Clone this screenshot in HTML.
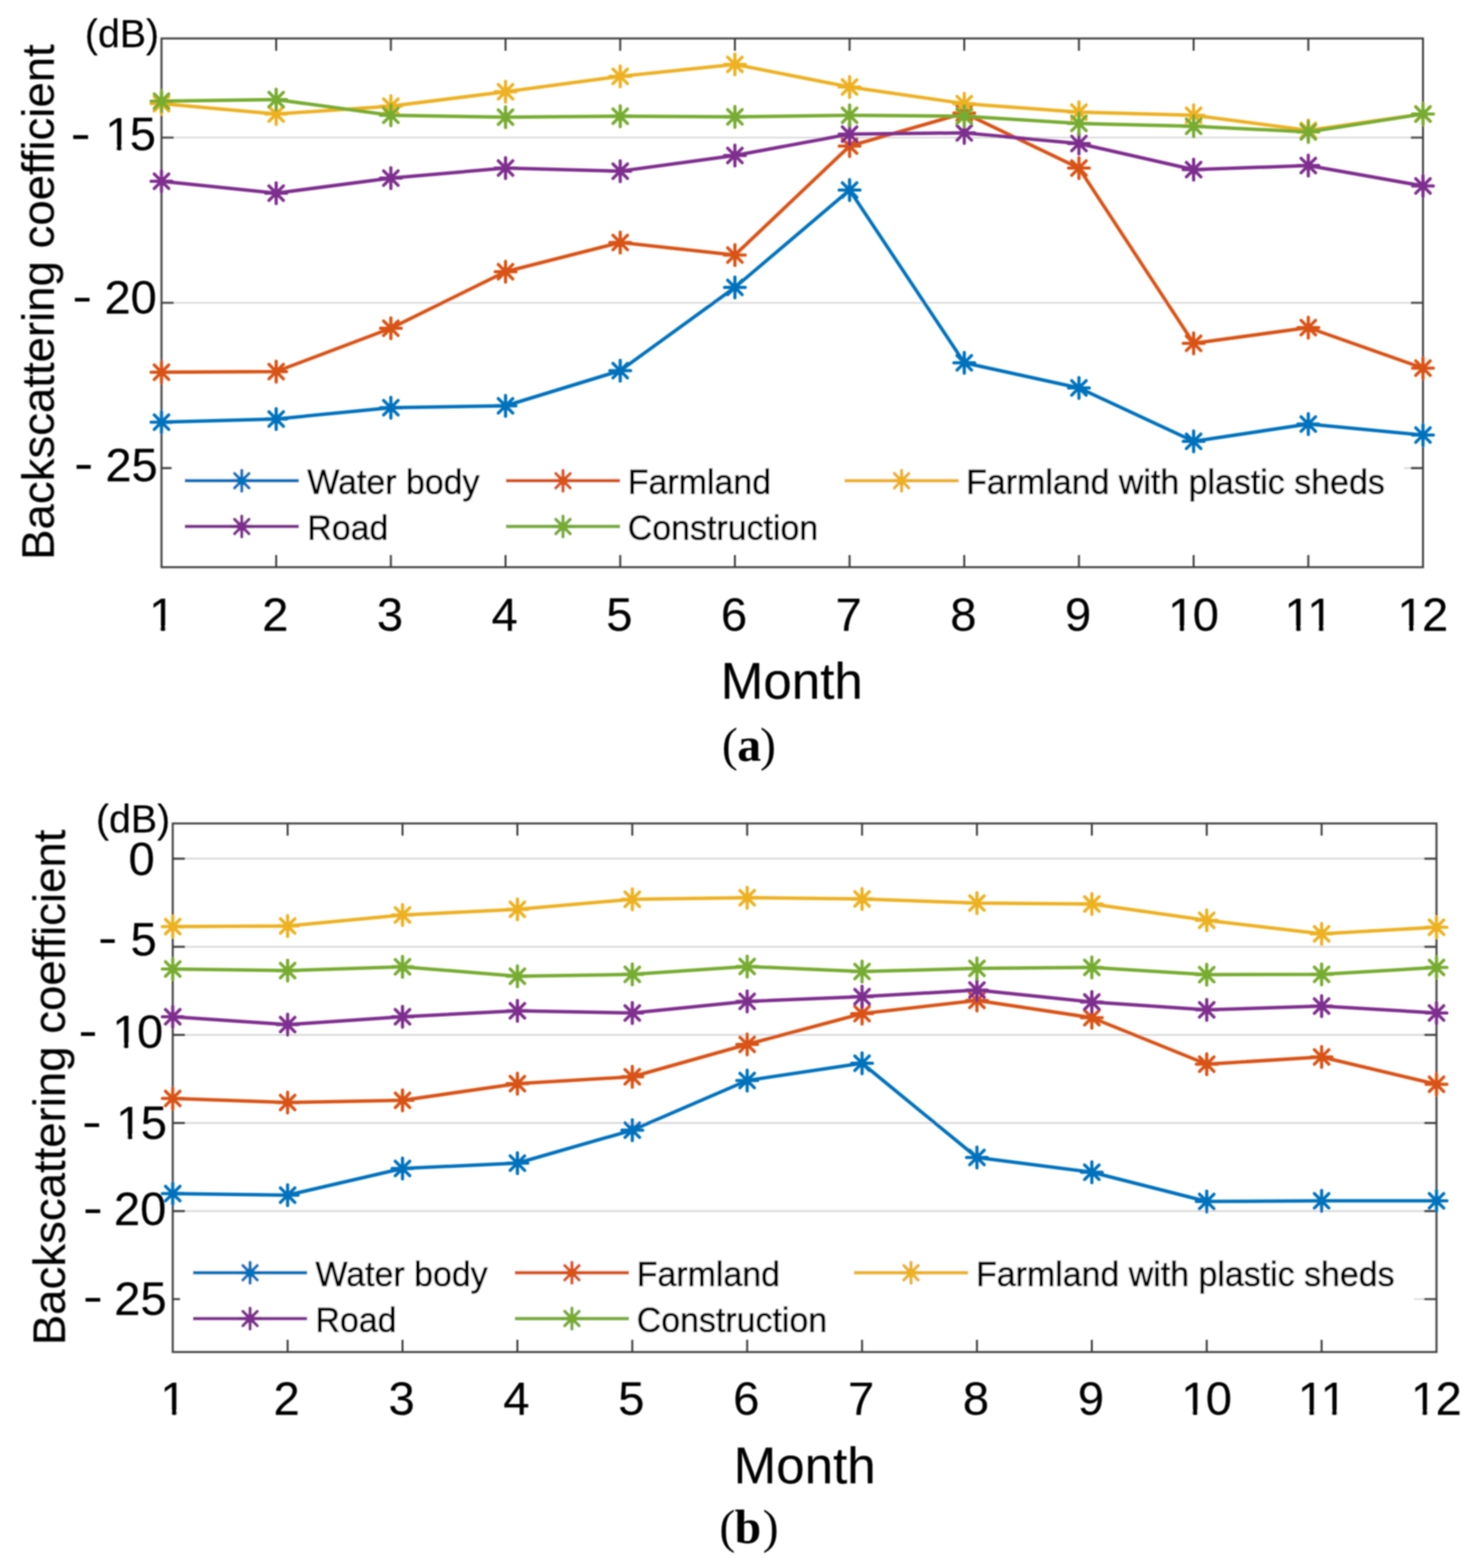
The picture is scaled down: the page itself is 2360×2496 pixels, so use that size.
<!DOCTYPE html>
<html><head><meta charset="utf-8"><title>Backscattering coefficient by month</title>
<style>
html,body{margin:0;padding:0;background:#fff;}
svg{display:block;}
text{font-family:"Liberation Sans", Arial, sans-serif;fill:#000;stroke:#000;stroke-width:0.25px;}
text.serif{font-family:"Liberation Serif", "Times New Roman", serif;stroke:none;}
text.leg{stroke-width:1.0px;}
</style></head>
<body>
<svg width="2360" height="2496" viewBox="0 0 2360 2496">
<defs><filter id="soft" x="0" y="0" width="2360" height="2496" filterUnits="userSpaceOnUse"><feGaussianBlur stdDeviation="0.8"/></filter></defs>
<rect width="2360" height="2496" fill="#fff"/>
<g filter="url(#soft)">
<path d="M257 219.02H2264.5M257 482.05H2264.5M257 745.08H2264.5" stroke="#d8d8d8" stroke-width="2.6" fill="none"/>
<path d="M439.5 61.2v19.5M439.5 902.9v-19.5M622 61.2v19.5M622 902.9v-19.5M804.5 61.2v19.5M804.5 902.9v-19.5M987 61.2v19.5M987 902.9v-19.5M1169.5 61.2v19.5M1169.5 902.9v-19.5M1352 61.2v19.5M1352 902.9v-19.5M1534.5 61.2v19.5M1534.5 902.9v-19.5M1717 61.2v19.5M1717 902.9v-19.5M1899.5 61.2v19.5M1899.5 902.9v-19.5M2082 61.2v19.5M2082 902.9v-19.5M257 219.02h19.5M2264.5 219.02h-19.5M257 482.05h19.5M2264.5 482.05h-19.5M257 745.08h19.5M2264.5 745.08h-19.5" stroke="#3c3c3c" stroke-width="3.1" fill="none"/>
<rect x="257" y="61.2" width="2007.5" height="841.7" stroke="#3c3c3c" stroke-width="3.1" fill="none"/>
<polyline points="257,672 439.5,667 622,649 804.5,646 987,590 1169.5,457.5 1352,302.5 1534.5,577.5 1717,617.5 1899.5,702.5 2082,675 2264.5,692.5" stroke="#0072BD" stroke-width="5.5" fill="none" stroke-linejoin="round" stroke-linecap="round"/>
<path d="M240.5 672H273.5M257 655.5V688.5M245.5 660.5L268.5 683.5M245.5 683.5L268.5 660.5M423 667H456M439.5 650.5V683.5M428 655.5L451 678.5M428 678.5L451 655.5M605.5 649H638.5M622 632.5V665.5M610.5 637.5L633.5 660.5M610.5 660.5L633.5 637.5M788 646H821M804.5 629.5V662.5M793 634.5L816 657.5M793 657.5L816 634.5M970.5 590H1003.5M987 573.5V606.5M975.5 578.5L998.5 601.5M975.5 601.5L998.5 578.5M1153 457.5H1186M1169.5 441V474M1158 446L1181 469M1158 469L1181 446M1335.5 302.5H1368.5M1352 286V319M1340.5 291L1363.5 314M1340.5 314L1363.5 291M1518 577.5H1551M1534.5 561V594M1523 566L1546 589M1523 589L1546 566M1700.5 617.5H1733.5M1717 601V634M1705.5 606L1728.5 629M1705.5 629L1728.5 606M1883 702.5H1916M1899.5 686V719M1888 691L1911 714M1888 714L1911 691M2065.5 675H2098.5M2082 658.5V691.5M2070.5 663.5L2093.5 686.5M2070.5 686.5L2093.5 663.5M2248 692.5H2281M2264.5 676V709M2253 681L2276 704M2253 704L2276 681" stroke="#0072BD" stroke-width="5.1" fill="none" stroke-linecap="round"/>
<polyline points="257,592.5 439.5,591.5 622,522.5 804.5,432.5 987,386 1169.5,406 1352,232.5 1534.5,180 1717,267.5 1899.5,546.5 2082,521.5 2264.5,586" stroke="#D95319" stroke-width="5.5" fill="none" stroke-linejoin="round" stroke-linecap="round"/>
<path d="M240.5 592.5H273.5M257 576V609M245.5 581L268.5 604M245.5 604L268.5 581M423 591.5H456M439.5 575V608M428 580L451 603M428 603L451 580M605.5 522.5H638.5M622 506V539M610.5 511L633.5 534M610.5 534L633.5 511M788 432.5H821M804.5 416V449M793 421L816 444M793 444L816 421M970.5 386H1003.5M987 369.5V402.5M975.5 374.5L998.5 397.5M975.5 397.5L998.5 374.5M1153 406H1186M1169.5 389.5V422.5M1158 394.5L1181 417.5M1158 417.5L1181 394.5M1335.5 232.5H1368.5M1352 216V249M1340.5 221L1363.5 244M1340.5 244L1363.5 221M1518 180H1551M1534.5 163.5V196.5M1523 168.5L1546 191.5M1523 191.5L1546 168.5M1700.5 267.5H1733.5M1717 251V284M1705.5 256L1728.5 279M1705.5 279L1728.5 256M1883 546.5H1916M1899.5 530V563M1888 535L1911 558M1888 558L1911 535M2065.5 521.5H2098.5M2082 505V538M2070.5 510L2093.5 533M2070.5 533L2093.5 510M2248 586H2281M2264.5 569.5V602.5M2253 574.5L2276 597.5M2253 597.5L2276 574.5" stroke="#D95319" stroke-width="5.1" fill="none" stroke-linecap="round"/>
<polyline points="257,165 439.5,181.5 622,169 804.5,146 987,121.5 1169.5,102.5 1352,138.5 1534.5,165 1717,178.5 1899.5,183.5 2082,207.5 2264.5,181.5" stroke="#EDB120" stroke-width="5.5" fill="none" stroke-linejoin="round" stroke-linecap="round"/>
<path d="M240.5 165H273.5M257 148.5V181.5M245.5 153.5L268.5 176.5M245.5 176.5L268.5 153.5M423 181.5H456M439.5 165V198M428 170L451 193M428 193L451 170M605.5 169H638.5M622 152.5V185.5M610.5 157.5L633.5 180.5M610.5 180.5L633.5 157.5M788 146H821M804.5 129.5V162.5M793 134.5L816 157.5M793 157.5L816 134.5M970.5 121.5H1003.5M987 105V138M975.5 110L998.5 133M975.5 133L998.5 110M1153 102.5H1186M1169.5 86V119M1158 91L1181 114M1158 114L1181 91M1335.5 138.5H1368.5M1352 122V155M1340.5 127L1363.5 150M1340.5 150L1363.5 127M1518 165H1551M1534.5 148.5V181.5M1523 153.5L1546 176.5M1523 176.5L1546 153.5M1700.5 178.5H1733.5M1717 162V195M1705.5 167L1728.5 190M1705.5 190L1728.5 167M1883 183.5H1916M1899.5 167V200M1888 172L1911 195M1888 195L1911 172M2065.5 207.5H2098.5M2082 191V224M2070.5 196L2093.5 219M2070.5 219L2093.5 196M2248 181.5H2281M2264.5 165V198M2253 170L2276 193M2253 193L2276 170" stroke="#EDB120" stroke-width="5.1" fill="none" stroke-linecap="round"/>
<polyline points="257,288.5 439.5,307.5 622,283.5 804.5,267.5 987,272.5 1169.5,247.5 1352,213.5 1534.5,211.5 1717,228.5 1899.5,270 2082,263.5 2264.5,296" stroke="#7E2F8E" stroke-width="5.5" fill="none" stroke-linejoin="round" stroke-linecap="round"/>
<path d="M240.5 288.5H273.5M257 272V305M245.5 277L268.5 300M245.5 300L268.5 277M423 307.5H456M439.5 291V324M428 296L451 319M428 319L451 296M605.5 283.5H638.5M622 267V300M610.5 272L633.5 295M610.5 295L633.5 272M788 267.5H821M804.5 251V284M793 256L816 279M793 279L816 256M970.5 272.5H1003.5M987 256V289M975.5 261L998.5 284M975.5 284L998.5 261M1153 247.5H1186M1169.5 231V264M1158 236L1181 259M1158 259L1181 236M1335.5 213.5H1368.5M1352 197V230M1340.5 202L1363.5 225M1340.5 225L1363.5 202M1518 211.5H1551M1534.5 195V228M1523 200L1546 223M1523 223L1546 200M1700.5 228.5H1733.5M1717 212V245M1705.5 217L1728.5 240M1705.5 240L1728.5 217M1883 270H1916M1899.5 253.5V286.5M1888 258.5L1911 281.5M1888 281.5L1911 258.5M2065.5 263.5H2098.5M2082 247V280M2070.5 252L2093.5 275M2070.5 275L2093.5 252M2248 296H2281M2264.5 279.5V312.5M2253 284.5L2276 307.5M2253 307.5L2276 284.5" stroke="#7E2F8E" stroke-width="5.1" fill="none" stroke-linecap="round"/>
<polyline points="257,161 439.5,158.5 622,183.5 804.5,186.5 987,185 1169.5,186 1352,183.5 1534.5,185 1717,196.5 1899.5,201 2082,210 2264.5,181.5" stroke="#77AC30" stroke-width="5.5" fill="none" stroke-linejoin="round" stroke-linecap="round"/>
<path d="M240.5 161H273.5M257 144.5V177.5M245.5 149.5L268.5 172.5M245.5 172.5L268.5 149.5M423 158.5H456M439.5 142V175M428 147L451 170M428 170L451 147M605.5 183.5H638.5M622 167V200M610.5 172L633.5 195M610.5 195L633.5 172M788 186.5H821M804.5 170V203M793 175L816 198M793 198L816 175M970.5 185H1003.5M987 168.5V201.5M975.5 173.5L998.5 196.5M975.5 196.5L998.5 173.5M1153 186H1186M1169.5 169.5V202.5M1158 174.5L1181 197.5M1158 197.5L1181 174.5M1335.5 183.5H1368.5M1352 167V200M1340.5 172L1363.5 195M1340.5 195L1363.5 172M1518 185H1551M1534.5 168.5V201.5M1523 173.5L1546 196.5M1523 196.5L1546 173.5M1700.5 196.5H1733.5M1717 180V213M1705.5 185L1728.5 208M1705.5 208L1728.5 185M1883 201H1916M1899.5 184.5V217.5M1888 189.5L1911 212.5M1888 212.5L1911 189.5M2065.5 210H2098.5M2082 193.5V226.5M2070.5 198.5L2093.5 221.5M2070.5 221.5L2093.5 198.5M2248 181.5H2281M2264.5 165V198M2253 170L2276 193M2253 193L2276 170" stroke="#77AC30" stroke-width="5.1" fill="none" stroke-linecap="round"/>
<rect x="273.5" y="728" width="1960.5" height="144" fill="#fff"/>
<path d="M294 765.2H475.5" stroke="#0072BD" stroke-width="5.5" fill="none"/>
<path d="M368.25 765.2H401.25M384.75 748.7V781.7M373.25 753.7L396.25 776.7M373.25 776.7L396.25 753.7" stroke="#0072BD" stroke-width="5.1" fill="none" stroke-linecap="round"/>
<text transform="translate(489 786.2) scale(1 1.03)" class="leg" font-size="54">Water body</text>
<path d="M805.2 765.2H986.7" stroke="#D95319" stroke-width="5.5" fill="none"/>
<path d="M879.45 765.2H912.45M895.95 748.7V781.7M884.45 753.7L907.45 776.7M884.45 776.7L907.45 753.7" stroke="#D95319" stroke-width="5.1" fill="none" stroke-linecap="round"/>
<text transform="translate(999 786.2) scale(1 1.03)" class="leg" font-size="54">Farmland</text>
<path d="M1344 765.2H1525.5" stroke="#EDB120" stroke-width="5.5" fill="none"/>
<path d="M1418.25 765.2H1451.25M1434.75 748.7V781.7M1423.25 753.7L1446.25 776.7M1423.25 776.7L1446.25 753.7" stroke="#EDB120" stroke-width="5.1" fill="none" stroke-linecap="round"/>
<text transform="translate(1537.6 786.2) scale(1 1.03)" class="leg" font-size="54">Farmland with plastic sheds</text>
<path d="M294 838.1H475.5" stroke="#7E2F8E" stroke-width="5.5" fill="none"/>
<path d="M368.25 838.1H401.25M384.75 821.6V854.6M373.25 826.6L396.25 849.6M373.25 849.6L396.25 826.6" stroke="#7E2F8E" stroke-width="5.1" fill="none" stroke-linecap="round"/>
<text transform="translate(489 859.1) scale(1 1.03)" class="leg" font-size="54">Road</text>
<path d="M805.2 838.1H986.7" stroke="#77AC30" stroke-width="5.5" fill="none"/>
<path d="M879.45 838.1H912.45M895.95 821.6V854.6M884.45 826.6L907.45 849.6M884.45 849.6L907.45 826.6" stroke="#77AC30" stroke-width="5.1" fill="none" stroke-linecap="round"/>
<text transform="translate(999 859.1) scale(1 1.03)" class="leg" font-size="54">Construction</text>
<text y="1004" font-size="75"><tspan x="237.14">1</tspan></text>
<text y="1004" font-size="75"><tspan x="417.14">2</tspan></text>
<text y="1004" font-size="75"><tspan x="599.64">3</tspan></text>
<text y="1004" font-size="75"><tspan x="782.14">4</tspan></text>
<text y="1004" font-size="75"><tspan x="964.64">5</tspan></text>
<text y="1004" font-size="75"><tspan x="1147.14">6</tspan></text>
<text y="1004" font-size="75"><tspan x="1329.64">7</tspan></text>
<text y="1004" font-size="75"><tspan x="1512.14">8</tspan></text>
<text y="1004" font-size="75"><tspan x="1694.64">9</tspan></text>
<text y="1004" font-size="75"><tspan x="1858.79">1</tspan><tspan x="1898">0</tspan></text>
<text y="1004" font-size="75"><tspan x="2044.07">1</tspan><tspan x="2080.22">1</tspan></text>
<text y="1004" font-size="75"><tspan x="2223.79">1</tspan><tspan x="2263">2</tspan></text>
<text transform="translate(112.51 238.47) scale(1.27 1)" font-size="75">-</text>
<text y="239.1" font-size="75"><tspan x="167.41">1</tspan><tspan x="206.62">5</tspan></text>
<text transform="translate(114.95 497.47) scale(1.26 1)" font-size="75">-</text>
<text y="498.8" font-size="75"><tspan x="166.16">2</tspan><tspan x="207.87">0</tspan></text>
<text transform="translate(117.92 762.67) scale(1.21 1)" font-size="75">-</text>
<text y="766" font-size="75"><tspan x="167.65">2</tspan><tspan x="209.36">5</tspan></text>
<text x="135.09" y="75.3" font-size="62.5">(dB)</text>
<text transform="translate(85.5 891.18) rotate(-90)" font-size="72.5">Backscattering coefficient</text>
<text x="1146.99" y="1112" font-size="81.3">Month</text>
<text y="1211" font-size="76" class="serif"><tspan x="1148.78">(</tspan><tspan x="1173.23" font-weight="bold">a</tspan><tspan x="1209.46">)</tspan></text>
<path d="M274.9 1366.89H2286M274.9 1507.13H2286M274.9 1647.36H2286M274.9 1787.59H2286M274.9 1927.83H2286M274.9 2068.06H2286" stroke="#d8d8d8" stroke-width="2.6" fill="none"/>
<path d="M457.73 1310.8v19.5M457.73 2152.2v-19.5M640.55 1310.8v19.5M640.55 2152.2v-19.5M823.38 1310.8v19.5M823.38 2152.2v-19.5M1006.21 1310.8v19.5M1006.21 2152.2v-19.5M1189.04 1310.8v19.5M1189.04 2152.2v-19.5M1371.86 1310.8v19.5M1371.86 2152.2v-19.5M1554.69 1310.8v19.5M1554.69 2152.2v-19.5M1737.52 1310.8v19.5M1737.52 2152.2v-19.5M1920.35 1310.8v19.5M1920.35 2152.2v-19.5M2103.17 1310.8v19.5M2103.17 2152.2v-19.5M274.9 1366.89h19.5M2286 1366.89h-19.5M274.9 1507.13h19.5M2286 1507.13h-19.5M274.9 1647.36h19.5M2286 1647.36h-19.5M274.9 1787.59h19.5M2286 1787.59h-19.5M274.9 1927.83h19.5M2286 1927.83h-19.5M274.9 2068.06h19.5M2286 2068.06h-19.5" stroke="#3c3c3c" stroke-width="3.1" fill="none"/>
<rect x="274.9" y="1310.8" width="2011.1" height="841.4" stroke="#3c3c3c" stroke-width="3.1" fill="none"/>
<polyline points="274.9,1900 457.73,1902.5 640.55,1860 823.38,1851.5 1006.21,1799 1189.04,1720 1371.86,1692.5 1554.69,1842.5 1737.52,1866 1920.35,1912.5 2103.17,1911.5 2286,1911.5" stroke="#0072BD" stroke-width="5.5" fill="none" stroke-linejoin="round" stroke-linecap="round"/>
<path d="M258.4 1900H291.4M274.9 1883.5V1916.5M263.4 1888.5L286.4 1911.5M263.4 1911.5L286.4 1888.5M441.23 1902.5H474.23M457.73 1886V1919M446.23 1891L469.23 1914M446.23 1914L469.23 1891M624.05 1860H657.05M640.55 1843.5V1876.5M629.05 1848.5L652.05 1871.5M629.05 1871.5L652.05 1848.5M806.88 1851.5H839.88M823.38 1835V1868M811.88 1840L834.88 1863M811.88 1863L834.88 1840M989.71 1799H1022.71M1006.21 1782.5V1815.5M994.71 1787.5L1017.71 1810.5M994.71 1810.5L1017.71 1787.5M1172.54 1720H1205.54M1189.04 1703.5V1736.5M1177.54 1708.5L1200.54 1731.5M1177.54 1731.5L1200.54 1708.5M1355.36 1692.5H1388.36M1371.86 1676V1709M1360.36 1681L1383.36 1704M1360.36 1704L1383.36 1681M1538.19 1842.5H1571.19M1554.69 1826V1859M1543.19 1831L1566.19 1854M1543.19 1854L1566.19 1831M1721.02 1866H1754.02M1737.52 1849.5V1882.5M1726.02 1854.5L1749.02 1877.5M1726.02 1877.5L1749.02 1854.5M1903.85 1912.5H1936.85M1920.35 1896V1929M1908.85 1901L1931.85 1924M1908.85 1924L1931.85 1901M2086.67 1911.5H2119.67M2103.17 1895V1928M2091.67 1900L2114.67 1923M2091.67 1923L2114.67 1900M2269.5 1911.5H2302.5M2286 1895V1928M2274.5 1900L2297.5 1923M2274.5 1923L2297.5 1900" stroke="#0072BD" stroke-width="5.1" fill="none" stroke-linecap="round"/>
<polyline points="274.9,1748.5 457.73,1755 640.55,1751.5 823.38,1725 1006.21,1714 1189.04,1662.5 1371.86,1613.5 1554.69,1592.5 1737.52,1620 1920.35,1694 2103.17,1682.5 2286,1726" stroke="#D95319" stroke-width="5.5" fill="none" stroke-linejoin="round" stroke-linecap="round"/>
<path d="M258.4 1748.5H291.4M274.9 1732V1765M263.4 1737L286.4 1760M263.4 1760L286.4 1737M441.23 1755H474.23M457.73 1738.5V1771.5M446.23 1743.5L469.23 1766.5M446.23 1766.5L469.23 1743.5M624.05 1751.5H657.05M640.55 1735V1768M629.05 1740L652.05 1763M629.05 1763L652.05 1740M806.88 1725H839.88M823.38 1708.5V1741.5M811.88 1713.5L834.88 1736.5M811.88 1736.5L834.88 1713.5M989.71 1714H1022.71M1006.21 1697.5V1730.5M994.71 1702.5L1017.71 1725.5M994.71 1725.5L1017.71 1702.5M1172.54 1662.5H1205.54M1189.04 1646V1679M1177.54 1651L1200.54 1674M1177.54 1674L1200.54 1651M1355.36 1613.5H1388.36M1371.86 1597V1630M1360.36 1602L1383.36 1625M1360.36 1625L1383.36 1602M1538.19 1592.5H1571.19M1554.69 1576V1609M1543.19 1581L1566.19 1604M1543.19 1604L1566.19 1581M1721.02 1620H1754.02M1737.52 1603.5V1636.5M1726.02 1608.5L1749.02 1631.5M1726.02 1631.5L1749.02 1608.5M1903.85 1694H1936.85M1920.35 1677.5V1710.5M1908.85 1682.5L1931.85 1705.5M1908.85 1705.5L1931.85 1682.5M2086.67 1682.5H2119.67M2103.17 1666V1699M2091.67 1671L2114.67 1694M2091.67 1694L2114.67 1671M2269.5 1726H2302.5M2286 1709.5V1742.5M2274.5 1714.5L2297.5 1737.5M2274.5 1737.5L2297.5 1714.5" stroke="#D95319" stroke-width="5.1" fill="none" stroke-linecap="round"/>
<polyline points="274.9,1475 457.73,1474 640.55,1456.5 823.38,1447.5 1006.21,1431.5 1189.04,1429 1371.86,1431 1554.69,1437.5 1737.52,1439 1920.35,1465 2103.17,1486.5 2286,1476" stroke="#EDB120" stroke-width="5.5" fill="none" stroke-linejoin="round" stroke-linecap="round"/>
<path d="M258.4 1475H291.4M274.9 1458.5V1491.5M263.4 1463.5L286.4 1486.5M263.4 1486.5L286.4 1463.5M441.23 1474H474.23M457.73 1457.5V1490.5M446.23 1462.5L469.23 1485.5M446.23 1485.5L469.23 1462.5M624.05 1456.5H657.05M640.55 1440V1473M629.05 1445L652.05 1468M629.05 1468L652.05 1445M806.88 1447.5H839.88M823.38 1431V1464M811.88 1436L834.88 1459M811.88 1459L834.88 1436M989.71 1431.5H1022.71M1006.21 1415V1448M994.71 1420L1017.71 1443M994.71 1443L1017.71 1420M1172.54 1429H1205.54M1189.04 1412.5V1445.5M1177.54 1417.5L1200.54 1440.5M1177.54 1440.5L1200.54 1417.5M1355.36 1431H1388.36M1371.86 1414.5V1447.5M1360.36 1419.5L1383.36 1442.5M1360.36 1442.5L1383.36 1419.5M1538.19 1437.5H1571.19M1554.69 1421V1454M1543.19 1426L1566.19 1449M1543.19 1449L1566.19 1426M1721.02 1439H1754.02M1737.52 1422.5V1455.5M1726.02 1427.5L1749.02 1450.5M1726.02 1450.5L1749.02 1427.5M1903.85 1465H1936.85M1920.35 1448.5V1481.5M1908.85 1453.5L1931.85 1476.5M1908.85 1476.5L1931.85 1453.5M2086.67 1486.5H2119.67M2103.17 1470V1503M2091.67 1475L2114.67 1498M2091.67 1498L2114.67 1475M2269.5 1476H2302.5M2286 1459.5V1492.5M2274.5 1464.5L2297.5 1487.5M2274.5 1487.5L2297.5 1464.5" stroke="#EDB120" stroke-width="5.1" fill="none" stroke-linecap="round"/>
<polyline points="274.9,1618.5 457.73,1631 640.55,1618.5 823.38,1609 1006.21,1612.5 1189.04,1594 1371.86,1586.5 1554.69,1576 1737.52,1595 1920.35,1607.5 2103.17,1601.5 2286,1612.5" stroke="#7E2F8E" stroke-width="5.5" fill="none" stroke-linejoin="round" stroke-linecap="round"/>
<path d="M258.4 1618.5H291.4M274.9 1602V1635M263.4 1607L286.4 1630M263.4 1630L286.4 1607M441.23 1631H474.23M457.73 1614.5V1647.5M446.23 1619.5L469.23 1642.5M446.23 1642.5L469.23 1619.5M624.05 1618.5H657.05M640.55 1602V1635M629.05 1607L652.05 1630M629.05 1630L652.05 1607M806.88 1609H839.88M823.38 1592.5V1625.5M811.88 1597.5L834.88 1620.5M811.88 1620.5L834.88 1597.5M989.71 1612.5H1022.71M1006.21 1596V1629M994.71 1601L1017.71 1624M994.71 1624L1017.71 1601M1172.54 1594H1205.54M1189.04 1577.5V1610.5M1177.54 1582.5L1200.54 1605.5M1177.54 1605.5L1200.54 1582.5M1355.36 1586.5H1388.36M1371.86 1570V1603M1360.36 1575L1383.36 1598M1360.36 1598L1383.36 1575M1538.19 1576H1571.19M1554.69 1559.5V1592.5M1543.19 1564.5L1566.19 1587.5M1543.19 1587.5L1566.19 1564.5M1721.02 1595H1754.02M1737.52 1578.5V1611.5M1726.02 1583.5L1749.02 1606.5M1726.02 1606.5L1749.02 1583.5M1903.85 1607.5H1936.85M1920.35 1591V1624M1908.85 1596L1931.85 1619M1908.85 1619L1931.85 1596M2086.67 1601.5H2119.67M2103.17 1585V1618M2091.67 1590L2114.67 1613M2091.67 1613L2114.67 1590M2269.5 1612.5H2302.5M2286 1596V1629M2274.5 1601L2297.5 1624M2274.5 1624L2297.5 1601" stroke="#7E2F8E" stroke-width="5.1" fill="none" stroke-linecap="round"/>
<polyline points="274.9,1542.5 457.73,1545 640.55,1539 823.38,1554 1006.21,1551 1189.04,1538.5 1371.86,1546.5 1554.69,1541.5 1737.52,1540 1920.35,1551.5 2103.17,1551 2286,1540" stroke="#77AC30" stroke-width="5.5" fill="none" stroke-linejoin="round" stroke-linecap="round"/>
<path d="M258.4 1542.5H291.4M274.9 1526V1559M263.4 1531L286.4 1554M263.4 1554L286.4 1531M441.23 1545H474.23M457.73 1528.5V1561.5M446.23 1533.5L469.23 1556.5M446.23 1556.5L469.23 1533.5M624.05 1539H657.05M640.55 1522.5V1555.5M629.05 1527.5L652.05 1550.5M629.05 1550.5L652.05 1527.5M806.88 1554H839.88M823.38 1537.5V1570.5M811.88 1542.5L834.88 1565.5M811.88 1565.5L834.88 1542.5M989.71 1551H1022.71M1006.21 1534.5V1567.5M994.71 1539.5L1017.71 1562.5M994.71 1562.5L1017.71 1539.5M1172.54 1538.5H1205.54M1189.04 1522V1555M1177.54 1527L1200.54 1550M1177.54 1550L1200.54 1527M1355.36 1546.5H1388.36M1371.86 1530V1563M1360.36 1535L1383.36 1558M1360.36 1558L1383.36 1535M1538.19 1541.5H1571.19M1554.69 1525V1558M1543.19 1530L1566.19 1553M1543.19 1553L1566.19 1530M1721.02 1540H1754.02M1737.52 1523.5V1556.5M1726.02 1528.5L1749.02 1551.5M1726.02 1551.5L1749.02 1528.5M1903.85 1551.5H1936.85M1920.35 1535V1568M1908.85 1540L1931.85 1563M1908.85 1563L1931.85 1540M2086.67 1551H2119.67M2103.17 1534.5V1567.5M2091.67 1539.5L2114.67 1562.5M2091.67 1562.5L2114.67 1539.5M2269.5 1540H2302.5M2286 1523.5V1556.5M2274.5 1528.5L2297.5 1551.5M2274.5 1551.5L2297.5 1528.5" stroke="#77AC30" stroke-width="5.1" fill="none" stroke-linecap="round"/>
<rect x="287" y="1988" width="1963" height="140" fill="#fff"/>
<path d="M307.2 2026H488.7" stroke="#0072BD" stroke-width="5.5" fill="none"/>
<path d="M381.45 2026H414.45M397.95 2009.5V2042.5M386.45 2014.5L409.45 2037.5M386.45 2037.5L409.45 2014.5" stroke="#0072BD" stroke-width="5.1" fill="none" stroke-linecap="round"/>
<text transform="translate(502 2047) scale(1 1.03)" class="leg" font-size="54">Water body</text>
<path d="M819.4 2026H1000.9" stroke="#D95319" stroke-width="5.5" fill="none"/>
<path d="M893.65 2026H926.65M910.15 2009.5V2042.5M898.65 2014.5L921.65 2037.5M898.65 2037.5L921.65 2014.5" stroke="#D95319" stroke-width="5.1" fill="none" stroke-linecap="round"/>
<text transform="translate(1013.3 2047) scale(1 1.03)" class="leg" font-size="54">Farmland</text>
<path d="M1359 2026H1540.5" stroke="#EDB120" stroke-width="5.5" fill="none"/>
<path d="M1433.25 2026H1466.25M1449.75 2009.5V2042.5M1438.25 2014.5L1461.25 2037.5M1438.25 2037.5L1461.25 2014.5" stroke="#EDB120" stroke-width="5.1" fill="none" stroke-linecap="round"/>
<text transform="translate(1553.2 2047) scale(1 1.03)" class="leg" font-size="54">Farmland with plastic sheds</text>
<path d="M307.2 2098.9H488.7" stroke="#7E2F8E" stroke-width="5.5" fill="none"/>
<path d="M381.45 2098.9H414.45M397.95 2082.4V2115.4M386.45 2087.4L409.45 2110.4M386.45 2110.4L409.45 2087.4" stroke="#7E2F8E" stroke-width="5.1" fill="none" stroke-linecap="round"/>
<text transform="translate(502 2119.9) scale(1 1.03)" class="leg" font-size="54">Road</text>
<path d="M819.4 2098.9H1000.9" stroke="#77AC30" stroke-width="5.5" fill="none"/>
<path d="M893.65 2098.9H926.65M910.15 2082.4V2115.4M898.65 2087.4L921.65 2110.4M898.65 2110.4L921.65 2087.4" stroke="#77AC30" stroke-width="5.1" fill="none" stroke-linecap="round"/>
<text transform="translate(1013.3 2119.9) scale(1 1.03)" class="leg" font-size="54">Construction</text>
<text y="2252.3" font-size="75"><tspan x="255.04">1</tspan></text>
<text y="2252.3" font-size="75"><tspan x="435.37">2</tspan></text>
<text y="2252.3" font-size="75"><tspan x="618.2">3</tspan></text>
<text y="2252.3" font-size="75"><tspan x="801.03">4</tspan></text>
<text y="2252.3" font-size="75"><tspan x="983.85">5</tspan></text>
<text y="2252.3" font-size="75"><tspan x="1166.68">6</tspan></text>
<text y="2252.3" font-size="75"><tspan x="1349.51">7</tspan></text>
<text y="2252.3" font-size="75"><tspan x="1532.34">8</tspan></text>
<text y="2252.3" font-size="75"><tspan x="1715.16">9</tspan></text>
<text y="2252.3" font-size="75"><tspan x="1879.63">1</tspan><tspan x="1918.85">0</tspan></text>
<text y="2252.3" font-size="75"><tspan x="2065.24">1</tspan><tspan x="2101.39">1</tspan></text>
<text y="2252.3" font-size="75"><tspan x="2245.29">1</tspan><tspan x="2284.5">2</tspan></text>
<text y="1393" font-size="75"><tspan x="204.44">0</tspan></text>
<text transform="translate(155.9 1518.47) scale(1.22 1)" font-size="75">-</text>
<text y="1520.6" font-size="75"><tspan x="207.64">5</tspan></text>
<text transform="translate(124.95 1665.97) scale(1.2 1)" font-size="75">-</text>
<text y="1667.7" font-size="75"><tspan x="178.67">1</tspan><tspan x="217.88">0</tspan></text>
<text transform="translate(130.81 1810.57) scale(1.24 1)" font-size="75">-</text>
<text y="1812.9" font-size="75"><tspan x="184.76">1</tspan><tspan x="223.97">5</tspan></text>
<text transform="translate(132.03 1948.47) scale(1.26 1)" font-size="75">-</text>
<text y="1949.6" font-size="75"><tspan x="181.36">2</tspan><tspan x="223.07">0</tspan></text>
<text transform="translate(132.03 2088.77) scale(1.26 1)" font-size="75">-</text>
<text y="2093" font-size="75"><tspan x="181.8">2</tspan><tspan x="223.51">5</tspan></text>
<text x="152.69" y="1325.3" font-size="62.5">(dB)</text>
<text transform="translate(103.3 2141.28) rotate(-90)" font-size="72.5">Backscattering coefficient</text>
<text x="1167.59" y="2360.8" font-size="81.3">Month</text>
<text y="2455.7" font-size="76" class="serif"><tspan x="1144.78">(</tspan><tspan x="1169.05" font-weight="bold">b</tspan><tspan x="1213.66">)</tspan></text>
<rect x="241.27" y="997.4" width="14" height="8.8" fill="#fff"/>
<rect x="263.34" y="997.4" width="13.55" height="8.8" fill="#fff"/>
<rect x="1862.91" y="997.4" width="14" height="8.8" fill="#fff"/>
<rect x="1884.99" y="997.4" width="13.55" height="8.8" fill="#fff"/>
<rect x="2048.19" y="997.4" width="14" height="8.8" fill="#fff"/>
<rect x="2070.27" y="997.4" width="13.55" height="8.8" fill="#fff"/>
<rect x="2084.35" y="997.4" width="14" height="8.8" fill="#fff"/>
<rect x="2106.42" y="997.4" width="13.55" height="8.8" fill="#fff"/>
<rect x="2227.91" y="997.4" width="14" height="8.8" fill="#fff"/>
<rect x="2249.99" y="997.4" width="13.55" height="8.8" fill="#fff"/>
<rect x="171.54" y="232.5" width="14" height="8.8" fill="#fff"/>
<rect x="193.61" y="232.5" width="13.55" height="8.8" fill="#fff"/>
<rect x="259.17" y="2245.7" width="14" height="8.8" fill="#fff"/>
<rect x="281.24" y="2245.7" width="13.55" height="8.8" fill="#fff"/>
<rect x="1883.76" y="2245.7" width="14" height="8.8" fill="#fff"/>
<rect x="1905.83" y="2245.7" width="13.55" height="8.8" fill="#fff"/>
<rect x="2069.37" y="2245.7" width="14" height="8.8" fill="#fff"/>
<rect x="2091.44" y="2245.7" width="13.55" height="8.8" fill="#fff"/>
<rect x="2105.52" y="2245.7" width="14" height="8.8" fill="#fff"/>
<rect x="2127.59" y="2245.7" width="13.55" height="8.8" fill="#fff"/>
<rect x="2249.41" y="2245.7" width="14" height="8.8" fill="#fff"/>
<rect x="2271.49" y="2245.7" width="13.55" height="8.8" fill="#fff"/>
<rect x="182.79" y="1661.1" width="14" height="8.8" fill="#fff"/>
<rect x="204.87" y="1661.1" width="13.55" height="8.8" fill="#fff"/>
<rect x="188.89" y="1806.3" width="14" height="8.8" fill="#fff"/>
<rect x="210.96" y="1806.3" width="13.55" height="8.8" fill="#fff"/>
</g>
</svg>
</body></html>
